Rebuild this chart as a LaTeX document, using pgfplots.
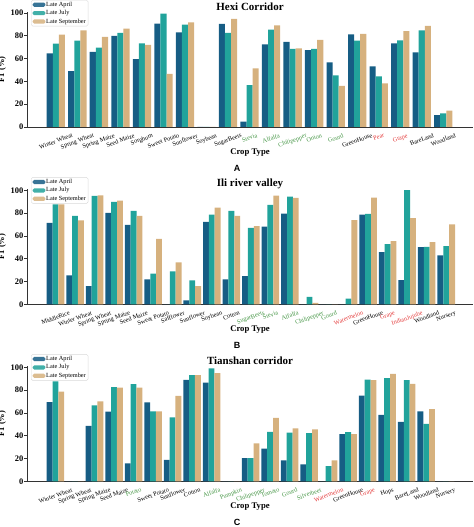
\documentclass[border=0pt]{standalone}
\usepackage{pgfplots}
\pgfplotsset{compat=1.18}
\usepackage{pgfplotstable}
\usepackage{graphicx}
\usepackage{fontspec}
\setmainfont{Liberation Serif}
\newfontfamily\panelfont{Liberation Sans}

\definecolor{april}{RGB}{22,93,132}
\definecolor{july}{RGB}{33,163,155}
\definecolor{sept}{RGB}{214,177,126}
\definecolor{cropgreen}{RGB}{70,150,70}
\definecolor{cropred}{RGB}{228,62,62}

% rotated crop labels (black / green / red)
\newcommand{\cl}[1]{\rotatebox{20}{#1}}
\newcommand{\gl}[1]{\textcolor{cropgreen}{\rotatebox{20}{#1}}}
\newcommand{\rl}[1]{\textcolor{cropred}{\rotatebox{20}{#1}}}

% F1 scores (%) per crop and period: Hexi Corridor
\pgfplotstableread{
idx apr  jul  sep
0   64.6 73.0 81.0
1   49.0 75.7 84.8
2   65.8 69.6 79.0
3   79.8 82.5 86.3
4   59.4 73.4 72.0
5   90.6 99.4 46.5
6   83.0 89.8 91.8
7   0    0    0
8   90.4 82.5 94.7
9   4.7  36.8 51.5
10  72.5 85.4 89.0
11  74.6 68.4 69.0
12  67.5 68.4 76.3
13  56.7 45.3 36.0
14  81.3 75.7 81.6
15  53.2 44.4 38.3
16  73.4 76.0 84.0
17  65.5 84.8 88.6
18  10.5 12.0 14.3
}\hexi

% Ili river valley
\pgfplotstableread{
idx apr  jul   sep
0   71.4 87.5  87.5
1   25.4 77.6  73.5
2   16.0 95.0  95.6
3   80.2 89.8  91.0
4   69.7 82.0  77.6
5   21.9 26.8  57.4
6   0    28.9  36.7
7   3.5  21.0  16.0
8   72.3 78.7  84.8
9   21.9 82.0  77.6
10  24.8 67.0  68.5
11  68.0 87.2  95.3
12  79.6 94.5  93.3
13  0    6.4   1.2
14  0    0     0
15  0    5.0   73.8
16  78.7 79.3  93.6
17  45.8 52.8  55.4
18  21.3 100.0 75.5
19  50.1 50.4  54.5
20  42.9 51.0  70.0
}\ili

% Tianshan corridor
\pgfplotstableread{
idx apr  jul  sep
0   69.4 87.5 78.7
1   0    0    0
2   48.7 66.5 70.0
3   61.0 82.5 82.2
4   15.7 85.1 82.2
5   69.1 61.2 61.2
6   18.7 56.0 75.0
7   88.9 93.0 93.0
8   86.6 99.1 94.8
9   0    0    0
10  20.4 20.4 33.2
11  28.6 43.4 55.7
12  18.4 42.6 46.4
13  14.9 42.3 45.5
14  0    13.4 18.4
15  41.4 43.1 41.4
16  75.2 89.2 88.6
17  58.3 90.4 94.2
18  52.2 88.6 85.4
19  61.2 50.4 63.3
20  0    0    0
}\tian

\pgfplotsset{
  f1panel/.style={
    scale only axis, width=446bp, height=115.2bp,
    anchor=south west,
    ymin=0, ymax=101,
    ytick={0,20,...,100},
    axis x line*=bottom, axis y line*=left,
    axis line style={black!80, line width=0.9bp},
    tick align=outside, major tick length=2.5bp,
    xtick style={draw=none},
    ytick style={black!80, line width=0.7bp},
    /pgf/number format/assume math mode=true,
    yticklabel style={font=\fontsize{8.5}{10}\selectfont\bfseries, inner sep=1bp},
    xticklabel style={font=\fontsize{6.3}{7}\selectfont, anchor=north, inner sep=0pt, yshift=-3.5bp},
    every axis title shift=0pt,
    title style={font=\fontsize{11}{13}\selectfont\bfseries, at={(axis description cs:0.5,1)}, anchor=center, yshift=5bp},
    xlabel={Crop Type},
    xlabel style={font=\fontsize{8.7}{10}\selectfont\bfseries, at={(axis description cs:0.5,0)}, anchor=center, yshift=-25.5bp},
    ylabel={F1 (\%)},
    ylabel style={font=\fontsize{8.5}{10}\selectfont\bfseries, at={(axis description cs:-0.056,0.5)}, anchor=center},
    ybar, bar width=#1,
    legend cell align=left,
    legend image code/.code={\fill[##1] (0bp,-2.1bp) rectangle (12.7bp,2.1bp);},
    legend style={at={(axis description cs:0.009,1.103)}, anchor=north west,
      draw=black!15, rounded corners=1.5bp, fill=white, fill opacity=0.85, text opacity=1,
      font=\fontsize{6.3}{7}\selectfont, row sep=1.2bp, inner xsep=1.5bp, inner ysep=1bp,
      nodes={inner sep=0.8bp, text height=4.3bp, text depth=1.3bp}},
  },
  apr/.style={fill=april, draw=none, bar shift=-#1},
  jul/.style={fill=july, draw=none, bar shift=0bp},
  sep/.style={fill=sept, draw=none, bar shift=#1},
}

\begin{document}
\begin{tikzpicture}
\useasboundingbox (0,0) rectangle (474bp,527bp);

% ---- Hexi Corridor ----
\begin{axis}[f1panel=6.1bp, at={(27bp,400bp)},
  xmin=-1.34, xmax=19.38,
  title={Hexi Corridor},
  xtick={0,...,18},
  xticklabels={\cl{Winter Wheat},\cl{Spring Wheat},\cl{Spring Maize},\cl{Seed Maize},\cl{Sorghum},
    \cl{Sweet Potato},\cl{Sunflower},\cl{Soybean},\cl{SugarBeets},\gl{Stevia},\gl{Alfalfa},
    \gl{Chilipepper},\gl{Onion},\gl{Gourd},\cl{GreenHouse},\rl{Pear},\rl{Grape},\cl{BareLand},\cl{Woodland}},
]
\addplot[apr=6.1bp] table[x=idx, y=apr] {\hexi};
\addplot[jul] table[x=idx, y=jul] {\hexi};
\addplot[sep=6.1bp] table[x=idx, y=sep] {\hexi};
\legend{Late April, Late July, Late September}
\end{axis}

% ---- Ili river valley ----
\begin{axis}[f1panel=5.86bp, at={(27bp,222.7bp)},
  xmin=-1.46, xmax=21.37,
  title={Ili river valley},
  xtick={0,...,20},
  xticklabels={\cl{MiddleRice},\cl{Winter Wheat},\cl{Spring Wheat},\cl{Spring Maize},\cl{Seed Maize},
    \cl{Sweat Potato},\cl{Safflower},\cl{Sunflower},\cl{Soybean},\cl{Cotton},\gl{SugarBeets},\gl{Stevia},
    \gl{Alfalfa},\gl{Chilipepper},\gl{Gourd},\rl{Watermelon},\cl{GreenHouse},\rl{Grape},\rl{IndianJujube},
    \cl{Woodland},\cl{Nursery}},
]
\addplot[apr=5.86bp] table[x=idx, y=apr] {\ili};
\addplot[jul] table[x=idx, y=jul] {\ili};
\addplot[sep=5.86bp] table[x=idx, y=sep] {\ili};
\legend{Late April, Late July, Late September}
\end{axis}

% ---- Tianshan corridor ----
\begin{axis}[f1panel=5.84bp, at={(27bp,45.7bp)},
  xmin=-1.46, xmax=21.4,
  title={Tianshan corridor},
  xtick={0,...,20},
  xticklabels={\cl{Winter Wheat},\cl{Spring Wheat},\cl{Spring Maize},\cl{Seed Maize},\gl{Potato},
    \cl{Sweet Potato},\cl{Sunflower},\cl{Cotton},\gl{Alfalfa},\gl{Pumpkin},\gl{Chilipepper},\gl{Tomato},
    \gl{Gourd},\gl{Silverbeet},\rl{Watermelon},\cl{GreenHouse},\rl{Grape},\cl{Hops},\cl{BareLand},
    \cl{Woodland},\cl{Nursery}},
]
\addplot[apr=5.84bp] table[x=idx, y=apr] {\tian};
\addplot[jul] table[x=idx, y=jul] {\tian};
\addplot[sep=5.84bp] table[x=idx, y=sep] {\tian};
\legend{Late April, Late July, Late September}
\end{axis}

% panel letters
\node[font=\panelfont\bfseries\fontsize{9}{10}\selectfont] at (237bp,359bp) {A};
\node[font=\panelfont\bfseries\fontsize{9}{10}\selectfont] at (237bp,182bp) {B};
\node[font=\panelfont\bfseries\fontsize{9}{10}\selectfont] at (237bp,4.6bp) {C};
\end{tikzpicture}
\end{document}
